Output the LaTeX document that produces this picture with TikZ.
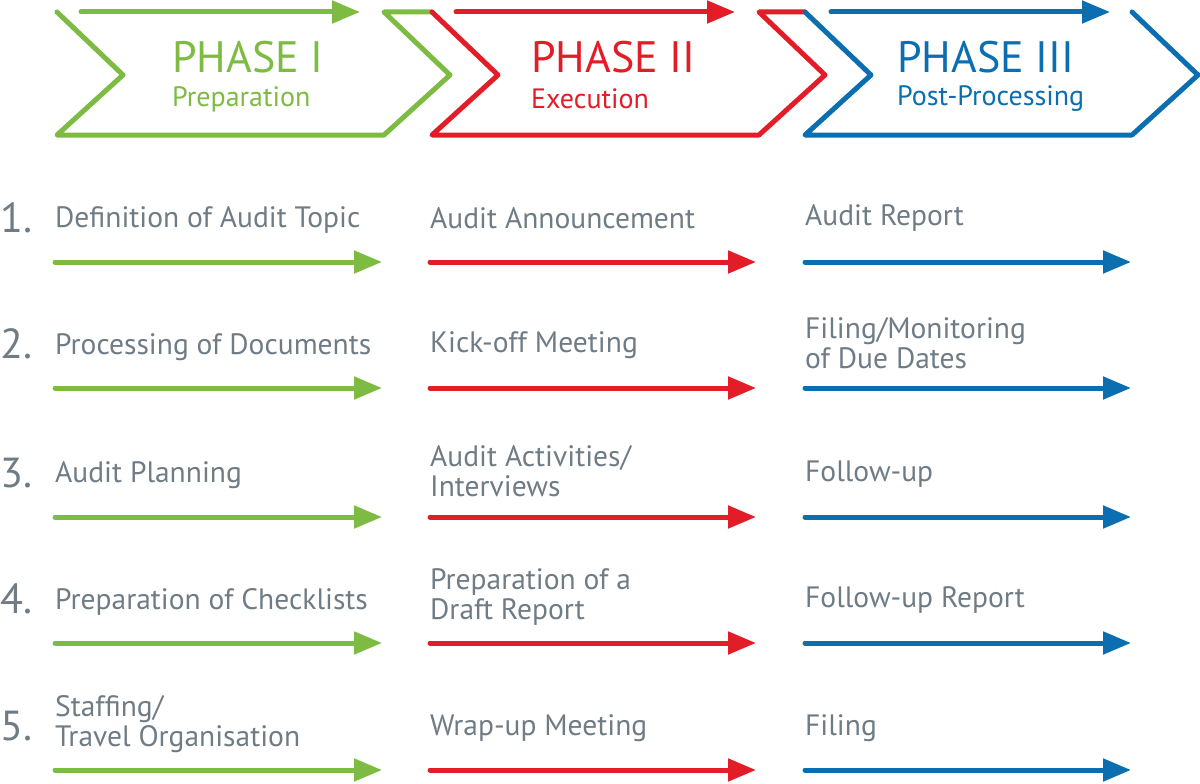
\documentclass[tikz,border=0pt]{standalone}
\usepackage{fontspec}
\setmainfont{PT Sans}
\usetikzlibrary{arrows.meta}
\definecolor{gr}{HTML}{7DBB42}
\definecolor{rd}{HTML}{E31D28}
\definecolor{bl}{HTML}{0A6EB0}
\definecolor{tx}{HTML}{6F7C85}
\begin{document}
\begin{tikzpicture}[x=1pt,y=-1pt,
 ln/.style={line width=5pt,line cap=round,line join=round},
 ar/.style={ln,-{Triangle[length=28pt,width=22pt]}},
 lbl/.style={anchor=west,text=tx,font=\fontsize{29.5}{30}\selectfont,align=left,inner sep=0pt},
 num/.style={anchor=west,text=tx,font=\fontsize{42}{44}\selectfont,inner sep=0pt},
 ph/.style={anchor=west,font=\fontsize{44}{46}\selectfont,inner sep=0pt},
 sub/.style={anchor=west,font=\fontsize{28}{30}\selectfont,inner sep=0pt}]
\useasboundingbox (0,0) rectangle (1200,784);
% chevrons
\draw[ln,gr] (57,12)--(123,75)--(57,135)--(384,135)--(450,75)--(384,12)--(432,12);
\draw[ln,rd] (432,12)--(498,75)--(432,135)--(759,135)--(825,75)--(759,12)--(805,12);
\draw[ln,bl] (805,12)--(871,75)--(805,135)--(1132,135)--(1198,75)--(1132,12);
\coordinate (ga) at (81,12); \coordinate (gb) at (360,12);
\coordinate (ra) at (456,12); \coordinate (rb) at (735,12);
\coordinate (ba) at (831,12); \coordinate (bb) at (1110,12);
\draw[ar,gr] (ga)--(gb); \draw[ar,rd] (ra)--(rb); \draw[ar,bl] (ba)--(bb);
\node[ph,text=gr] (p1) at (172,57) {PHASE I};
\node[sub,text=gr] (s1) at (172,99) {Preparation};
\node[ph,text=rd] (p2) at (531,57) {PHASE II};
\node[sub,text=rd] (s2) at (531,99) {Execution};
\node[ph,text=bl] (p3) at (897,57) {PHASE III};
\node[sub,text=bl] (s3) at (897,99) {Post-Processing};
% rows
\foreach \y/\n in {262/1,388/2,517/3,643/4,770/5}{
  \coordinate (g1\n) at (55,\y); \coordinate (g2\n) at (382,\y);
  \coordinate (r1\n) at (430,\y); \coordinate (r2\n) at (756,\y);
  \coordinate (b1\n) at (805,\y); \coordinate (b2\n) at (1131,\y);
  \draw[ar,gr] (g1\n)--(g2\n);
  \draw[ar,rd] (r1\n)--(r2\n);
  \draw[ar,bl] (b1\n)--(b2\n);
  \node[num] (n\n) at (0,\y-44) {\n.};
}
\node[lbl] (a1) at (55,220) {Definition of Audit Topic};
\node[lbl] (a2) at (55,347) {Processing of Documents};
\node[lbl] (a3) at (55,475) {Audit Planning};
\node[lbl] (a4) at (55,602) {Preparation of Checklists};
\node[lbl] (a5) at (55,724) {Staffing/\\Travel Organisation};
\node[lbl] (b1) at (430,218) {Audit Announcement};
\node[lbl] (b2) at (430,345) {Kick-off Meeting};
\node[lbl] (b3) at (430,471) {Audit Activities/\\Interviews};
\node[lbl] (b4) at (430,597) {Preparation of a\\Draft Report};
\node[lbl] (b5) at (430,728) {Wrap-up Meeting};
\node[lbl] (c1) at (805,218) {Audit Report};
\node[lbl] (c2) at (805,343) {Filing/Monitoring\\of Due Dates};
\node[lbl] (c3) at (805,474) {Follow-up};
\node[lbl] (c4) at (805,600) {Follow-up Report};
\node[lbl] (c5) at (805,728) {Filing};
\end{tikzpicture}
\end{document}
